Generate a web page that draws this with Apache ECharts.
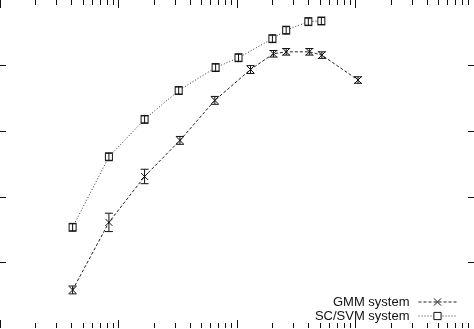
<!DOCTYPE html>
<html>
<head>
<meta charset="utf-8">
<script src="https://cdn.jsdelivr.net/npm/echarts@6/dist/echarts.min.js"></script>
<style>
  html, body { margin: 0; padding: 0; background: #fff; }
  #chart { width: 474px; height: 329px; }
</style>
</head>
<body>
<div id="chart"></div>
<script>
// GMM baseline: x values (log scale), scores, and error half-widths
const gmmX   = [0.41, 0.83, 1.66, 3.3, 6.5, 13, 20.3, 26, 40.8, 52, 105];
const gmmY   = [55.8, 66.1, 73.1, 78.6, 84.7, 89.4, 91.8, 92.1, 92.1, 91.6, 87.8];
const gmmErr = [0.6, 1.4, 1.1, 0.6, 0.6, 0.6, 0.5, 0.5, 0.5, 0.5, 0.5];

// SC/SVM system
const svmX   = [0.41, 0.83, 1.66, 3.22, 6.6, 10.3, 19.9, 26, 40, 51.5];
const svmY   = [65.35, 76.1, 81.8, 86.2, 89.7, 91.2, 94.1, 95.4, 96.7, 96.8];
const svmErr = [0.6, 0.6, 0.6, 0.6, 0.6, 0.6, 0.6, 0.6, 0.6, 0.6];

const seriesNames = ['GMM system', 'SC/SVM system'];

// axis ranges and tick positions
const xMin = 0.1, xMax = 1000;
const yMin = 50, yMax = 100;
const yTicks = [60, 70, 80, 90];
const decades = [0.1, 1, 10, 100];
const minorSteps = [2, 3, 4, 5, 6, 7, 8, 9];
const xMinorTicks = [];
decades.forEach(d => minorSteps.forEach(m => xMinorTicks.push(+(m * d).toPrecision(3))));

const ink = '#111';

function pairs(xs, ys) { return xs.map((x, i) => [x, ys[i]]); }

function errorBars(xs, ys, es) {
  return {
    type: 'custom',
    silent: true,
    z: 5,
    encode: { x: 0, y: [1, 2] },
    data: xs.map((x, i) => [x, ys[i] - es[i], ys[i] + es[i]]),
    renderItem: function (params, api) {
      const lo = api.coord([api.value(0), api.value(1)]);
      const hi = api.coord([api.value(0), api.value(2)]);
      const w = 4;
      const st = { stroke: ink, lineWidth: 1 };
      return {
        type: 'group',
        children: [
          { type: 'line', shape: { x1: lo[0], y1: lo[1], x2: hi[0], y2: hi[1] }, style: st },
          { type: 'line', shape: { x1: lo[0] - w, y1: lo[1], x2: lo[0] + w, y2: lo[1] }, style: st },
          { type: 'line', shape: { x1: hi[0] - w, y1: hi[1], x2: hi[0] + w, y2: hi[1] }, style: st }
        ]
      };
    }
  };
}

function xAxisDef(position, major) {
  const tick = { show: true, inside: true, length: major ? 8 : 5, lineStyle: { color: ink, width: 1 } };
  if (!major) tick.customValues = xMinorTicks;
  return {
    type: 'log', logBase: 10, min: xMin, max: xMax, position: position,
    axisLine: { show: false, onZero: false },
    axisLabel: { show: false },
    splitLine: { show: false },
    axisTick: tick
  };
}

function yAxisDef(position) {
  return {
    type: 'value', min: yMin, max: yMax, position: position,
    axisLine: { show: false, onZero: false },
    axisLabel: { show: false },
    splitLine: { show: false },
    axisTick: { show: true, inside: true, length: 6, customValues: yTicks, lineStyle: { color: ink, width: 1 } }
  };
}

const chart = echarts.init(document.getElementById('chart'), null, { renderer: 'canvas' });
chart.setOption({
  animation: false,
  backgroundColor: '#fff',
  grid: { left: -1, right: 0, top: -1, bottom: 1, containLabel: false },
  xAxis: [xAxisDef('bottom', true), xAxisDef('bottom', false), xAxisDef('top', true), xAxisDef('top', false)],
  yAxis: [yAxisDef('left'), yAxisDef('right')],
  legend: {
    orient: 'vertical',
    right: 17,
    bottom: 6,
    padding: 0,
    align: 'right',
    itemWidth: 38,
    itemHeight: 9,
    itemGap: 0,
    data: seriesNames,
    lineStyle: { width: 1 },
    itemStyle: { borderWidth: 1 },
    textStyle: { fontFamily: 'Liberation Sans, Arial, sans-serif', fontSize: 13, lineHeight: 14, color: ink, padding: [0, 4, 0, 0] }
  },
  series: [
    {
      name: seriesNames[0],
      type: 'line',
      data: pairs(gmmX, gmmY),
      symbol: 'path://M0,0L8,8M8,0L0,8',
      symbolSize: 7,
      showAllSymbol: true,
      lineStyle: { color: '#222', width: 1, type: [3, 2] },
      itemStyle: { color: 'rgba(0,0,0,0)', borderColor: ink, borderWidth: 1 },
      z: 4
    },
    {
      name: seriesNames[1],
      type: 'line',
      data: pairs(svmX, svmY),
      symbol: 'path://M0,0H8V8H0Z',
      symbolSize: 7,
      showAllSymbol: true,
      lineStyle: { color: '#333', width: 1, type: [1, 2] },
      itemStyle: { color: '#fff', borderColor: ink, borderWidth: 1 },
      z: 4
    },
    errorBars(gmmX, gmmY, gmmErr),
    errorBars(svmX, svmY, svmErr)
  ]
});
</script>
</body>
</html>
